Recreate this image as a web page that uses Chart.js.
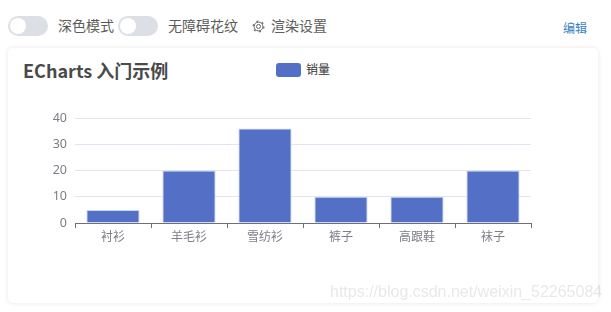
<!DOCTYPE html>
<html>
<head>
<meta charset="utf-8">
<script src="https://cdn.jsdelivr.net/npm/chart.js@4/dist/chart.umd.min.js"></script>
<style>
  html, body { margin: 0; padding: 0; background: #fff; }
  body { width: 611px; height: 312px; position: relative; overflow: hidden;
    font-family: "Noto Sans CJK SC", "Noto Sans", sans-serif; color: #555; }
  .abs { position: absolute; white-space: nowrap; }
  .toggle { position: absolute; top: 16px; width: 40px; height: 20px; border-radius: 10px; background: #dcdfe6; }
  .toggle i { position: absolute; left: 2px; top: 2px; width: 16px; height: 16px; border-radius: 8px; background: #fff; }
  .label { top: 15px; font-size: 14px; line-height: 20px; color: #5c5c5c; }
  .card { position: absolute; left: 8px; top: 48px; width: 590px; height: 255px; border-radius: 5px;
    background: #fff; box-shadow: 0 0 5px rgba(0,0,0,0.1); }
  #chart-wrap { position: absolute; left: 0; top: 0; width: 611px; height: 312px; }
  #swatch { left: 276px; top: 63px; width: 25px; height: 14px; border-radius: 3px; }
  #mark { left: 330px; top: 283px; font: 16px "Liberation Sans", sans-serif; color: rgba(150,150,150,0.22); }
</style>
</head>
<body>
<div class="toggle" style="left:8px"><i></i></div>
<div class="abs label" style="left:58px">深色模式</div>
<div class="toggle" style="left:118px"><i></i></div>
<div class="abs label" style="left:168px">无障碍花纹</div>
<svg class="abs" style="left:252px;top:20px" width="13" height="13" viewBox="0 0 13 13">
  <circle cx="6.5" cy="6.5" r="2" fill="none" stroke="#666" stroke-width="1"/>
  <circle cx="6.5" cy="6.5" r="4.4" fill="none" stroke="#666" stroke-width="1"/>
  <circle cx="6.5" cy="6.5" r="5.4" fill="none" stroke="#666" stroke-width="1.2" stroke-dasharray="2 3.65"/>
</svg>
<div class="abs label" style="left:271px">渲染设置</div>
<div class="abs" style="left:563px;top:19px;font-size:12px;line-height:18px;color:#3a7fc1">编辑</div>
<div class="card"></div>
<div class="abs" style="left:23px;top:57px;font-size:18px;line-height:26px;font-weight:700;color:#4a4a4a">ECharts 入门示例</div>
<div class="abs" id="swatch"></div>
<div class="abs" id="legend-text" style="left:306px;top:60px;font-size:12px;line-height:17px;color:#333"></div>
<div id="chart-wrap"><canvas id="chart-1" width="611" height="312"></canvas></div>
<div class="abs" id="mark">https://blog.csdn.net/weixin_52265084</div>
<script>
const categories = ["衬衫", "羊毛衫", "雪纺衫", "裤子", "高跟鞋", "袜子"];
const sales = [5, 20, 36, 10, 10, 20];
const seriesName = "销量";

const barColor = "#5470c6";
document.getElementById("swatch").style.background = barColor;
document.getElementById("legend-text").textContent = seriesName;

const ctx_1 = document.getElementById("chart-1");
const data_1 = {
  labels: categories,
  datasets: [
    {
      label: seriesName,
      data: sales,
      backgroundColor: barColor,
      borderColor: "#c8d4f3",
      borderWidth: 1,
      barPercentage: 0.7,
      categoryPercentage: 1,
    },
  ],
};
new Chart(ctx_1, {
  type: "bar",
  data: data_1,
  options: {
    responsive: false,
    animation: false,
    layout: { padding: { left: 0, top: 118, right: 80, bottom: 0 } },
    scales: {
      x: {
        afterFit: (axis) => { axis.height = 89; },
        grid: { offset: true, drawOnChartArea: false, tickLength: 5, color: "#6e7079" },
        border: { color: "#6e7079" },
        ticks: {
          color: "#7c7e86",
          padding: 1,
          maxRotation: 0,
          font: { family: '"Noto Sans CJK SC"', size: 12 },
        },
      },
      y: {
        min: 0,
        max: 40,
        afterFit: (axis) => { axis.width = 75; },
        grid: { color: "#e0e6f1", drawTicks: false },
        border: { display: false },
        ticks: {
          stepSize: 10,
          color: "#7c7e86",
          padding: 8,
          font: { family: '"Noto Sans"', size: 12.5 },
        },
      },
    },
    plugins: {
      legend: { display: false },
      tooltip: { enabled: false },
    },
  },
});
</script>
</body>
</html>
